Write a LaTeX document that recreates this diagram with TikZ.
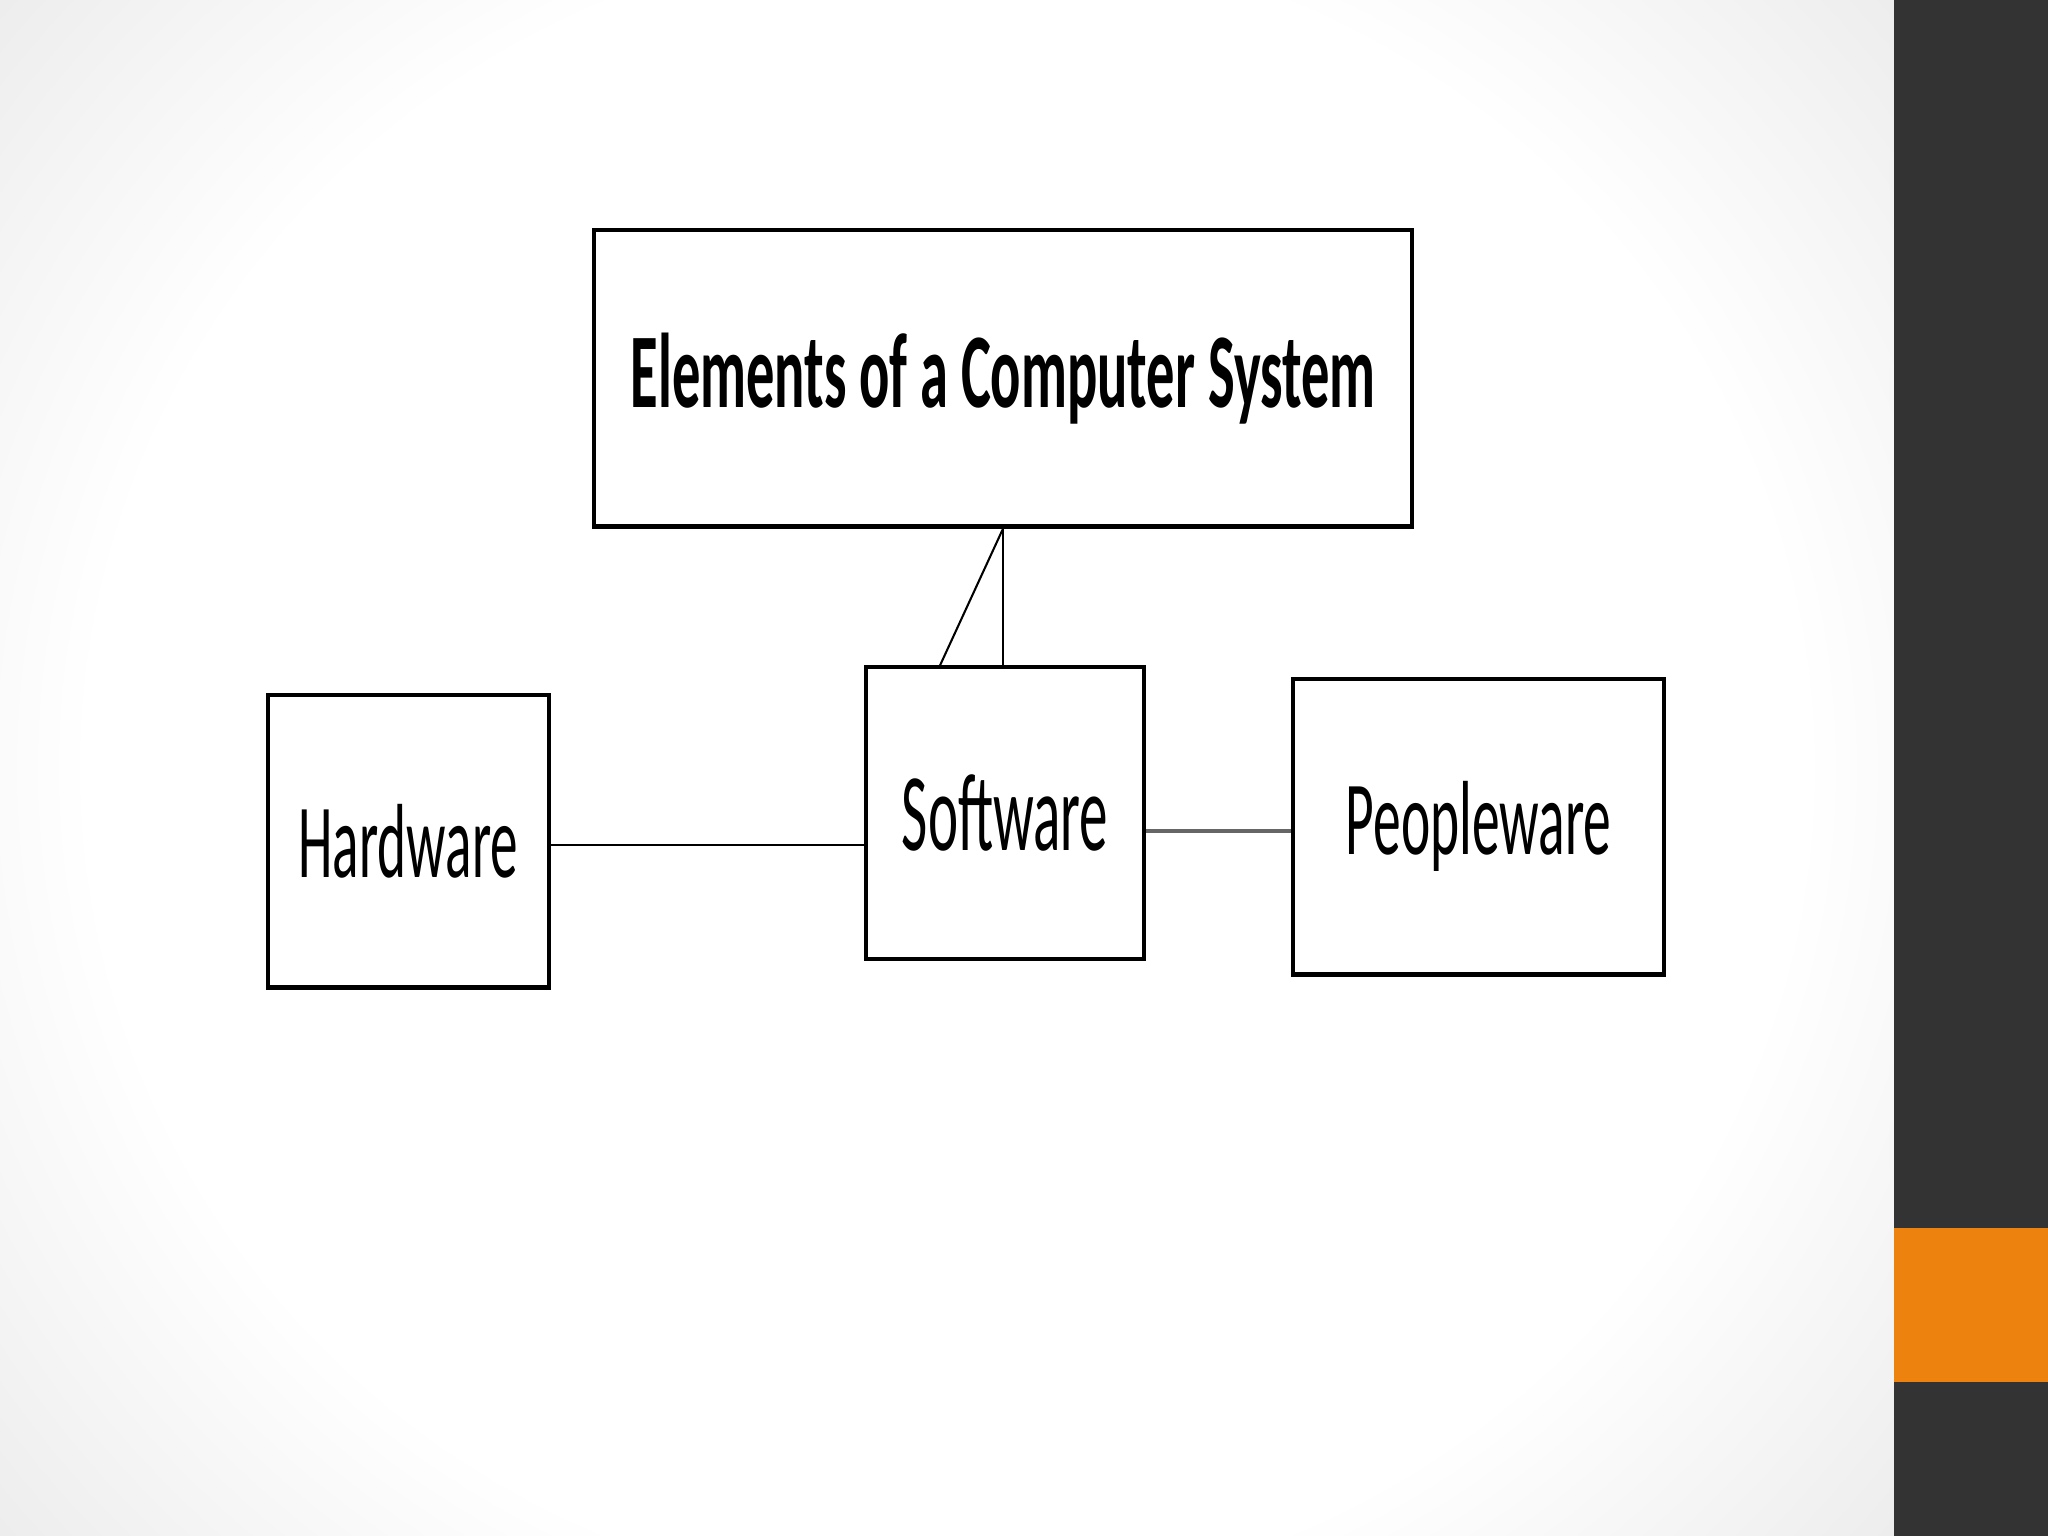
\documentclass[tikz,border=0pt]{standalone}
\usepackage{fontspec}
\setmainfont{Carlito}
\usetikzlibrary{calc}
\definecolor{panel}{HTML}{333333}
\definecolor{accent}{HTML}{EE820F}
\pgfdeclareradialshading{slidebg}{\pgfpoint{0cm}{0cm}}{%
  color(0bp)=(white); color(16bp)=(white); color(25bp)=(black!9); color(50bp)=(black!12)}
\begin{document}
\begin{tikzpicture}[x=0.01cm,y=-0.01cm,
  box/.style={draw=black,line width=0.9pt,fill=white,rectangle,inner sep=0pt},
  conn/.style={draw=black,line width=0.45pt}]
\useasboundingbox (0,0) rectangle (1568,1176);
\shade[shading=slidebg] (-300,-400) rectangle (1750,1576);
\fill[panel] (1450,0) rectangle (1568,1176);
\fill[accent] (1450,940) rectangle (1568,1058);
\node[box,minimum width=6.26cm,minimum height=2.27cm] (title) at (768,289.5)
  {\resizebox{5.7cm}{0.57cm}{\bfseries Elements of a Computer System}};
\node[box,minimum width=2.15cm,minimum height=2.24cm] (hw) at (312.5,644)
  {\resizebox{1.68cm}{0.56cm}{Hardware}};
\node[box,minimum width=2.13cm,minimum height=2.23cm] (sw) at (769.5,622.5)
  {\resizebox{1.58cm}{0.58cm}{Software}};
\node[box,minimum width=2.84cm,minimum height=2.26cm] (pe) at (1132,633)
  {\resizebox{2.03cm}{0.56cm}{Peopleware}};
\draw[conn] ($(hw.east)+(0,3)$) -- ($(hw.east -| sw.west)+(0,3)$);
\draw[conn,draw=black!60,line width=0.8pt] ($(pe.west -| sw.east)+(0,3)$) -- ($(pe.west)+(0,3)$);
\draw[conn] (title.south) -- (title.south |- sw.north);
\draw[conn] (title.south) -- ($(sw.north west)!0.27!(sw.north east)$);
\end{tikzpicture}
\end{document}
